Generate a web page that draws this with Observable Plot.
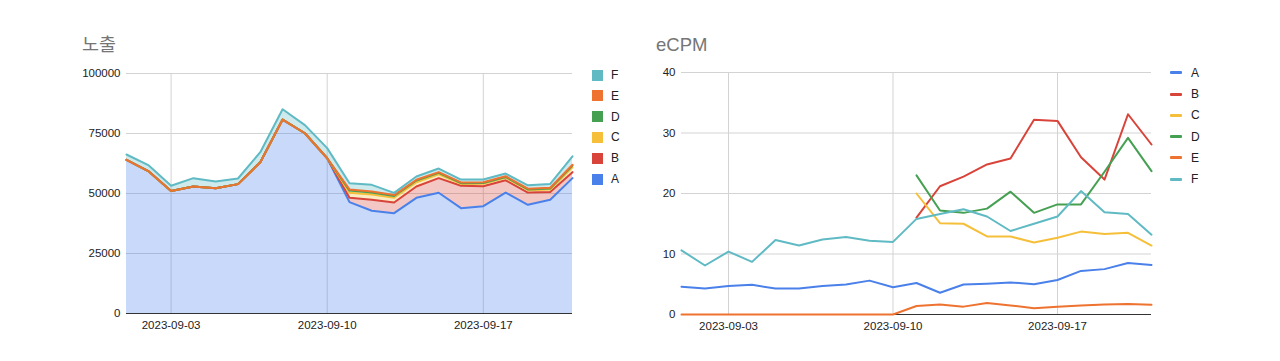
<!DOCTYPE html>
<html>
<head>
<meta charset="utf-8">
<script src="https://cdn.jsdelivr.net/npm/d3@7"></script>
<script src="https://cdn.jsdelivr.net/npm/@observablehq/plot@0.6"></script>
<style>
  html, body { margin: 0; padding: 0; background: #fff; }
  #root { position: relative; width: 1280px; height: 361px; overflow: hidden;
          font-family: "Liberation Sans", Arial, "Noto Sans CJK KR", sans-serif; }
  .title { position: absolute; font-size: 18.5px; color: #757575; line-height: 1; white-space: nowrap;
           font-family: "Liberation Sans", Arial, "Noto Sans CJK KR", sans-serif; }
  .chart { position: absolute; }
  .leg { position: absolute; font-size: 12px; color: #222; line-height: 1; }
  .leg .item { position: absolute; white-space: nowrap; }
  .leg .sw { position: absolute; }
  .leg .lb { position: absolute; }
</style>
</head>
<body>
<div id="root"></div>
<script>
// ---------- data ----------
const dates = ["2023-09-01","2023-09-02","2023-09-03","2023-09-04","2023-09-05","2023-09-06","2023-09-07",
               "2023-09-08","2023-09-09","2023-09-10","2023-09-11","2023-09-12","2023-09-13","2023-09-14",
               "2023-09-15","2023-09-16","2023-09-17","2023-09-18","2023-09-19","2023-09-20","2023-09-21"];
const tickDates = ["2023-09-03", "2023-09-10", "2023-09-17"];
const seriesNames = ["A", "B", "C", "D", "E", "F"];
const seriesColors = ["#4a80ea", "#d8443a", "#f5bf3a", "#46a052", "#ee7230", "#5fbac4"];

// 노출 (impressions)
const impA = [64000,59200,51000,52900,52200,53900,63000,80800,75100,64700,46400,42800,41800,48200,50300,43900,44700,50400,45300,47400,56400];
const impB = [0,0,0,0,0,0,0,0,0,0,1800,4600,4450,4700,6100,9300,8300,5100,5100,3200,2500];
const impC = [0,0,0,0,0,0,0,0,0,0,2100,2200,2000,1800,1600,800,1100,1100,1000,1100,2000];
const impD = [0,0,0,0,0,0,0,0,0,0,900,800,700,700,600,300,300,300,300,400,700];
const impE = [0,0,0,0,0,0,0,0,0,0,500,450,400,300,300,300,300,300,300,300,400];
const impF = [2250,2500,2200,3500,2800,2350,4200,4300,3400,4200,2600,2750,900,1400,1500,1200,1100,1100,1400,1600,3500];
const impTicks = [0, 25000, 50000, 75000, 100000];

// eCPM
const ecpmA = [4.6,4.3,4.7,4.9,4.3,4.3,4.7,4.95,5.6,4.5,5.2,3.6,4.95,5.1,5.3,5.0,5.7,7.2,7.5,8.5,8.2];
const ecpmB = [null,null,null,null,null,null,null,null,null,null,16.0,21.2,22.8,24.8,25.8,32.2,32.0,26.0,22.3,33.1,28.1];
const ecpmC = [null,null,null,null,null,null,null,null,null,null,20.0,15.1,15.0,12.9,12.9,11.9,12.7,13.7,13.3,13.5,11.4];
const ecpmD = [null,null,null,null,null,null,null,null,null,null,23.0,17.2,16.8,17.5,20.3,16.8,18.2,18.2,23.6,29.2,23.7];
const ecpmE = [0,0,0,0,0,0,0,0,0,0,1.4,1.65,1.3,1.9,1.5,1.05,1.3,1.5,1.65,1.75,1.6];
const ecpmF = [10.6,8.1,10.4,8.7,12.3,11.4,12.4,12.8,12.2,12.0,15.8,16.6,17.4,16.2,13.8,15.0,16.2,20.4,16.9,16.6,13.2];
const ecpmTicks = [0, 10, 20, 30, 40];

// ---------- build tables ----------
const parse = d3.utcParse("%Y-%m-%d");
const fmt = d3.utcFormat("%Y-%m-%d");
function toRows(arrays) {
  const rows = [];
  seriesNames.forEach((s, i) => {
    arrays[i].forEach((v, j) => rows.push({ date: parse(dates[j]), series: s, value: v }));
  });
  return rows;
}
const impRows = toRows([impA, impB, impC, impD, impE, impF]);
const ecpmRows = toRows([ecpmA, ecpmB, ecpmC, ecpmD, ecpmE, ecpmF]);
const xDomain = [parse(dates[0]), parse(dates[dates.length - 1])];
const xTicks = tickDates.map(parse);
const gridColor = "#d3d3d3";
const axisStyle = { fontFamily: "'Liberation Sans', Arial, sans-serif", fontSize: "11.5px", color: "#222", background: "transparent", overflow: "visible" };

const root = document.getElementById("root");

function addTitle(text, left, top) {
  const t = document.createElement("div");
  t.className = "title"; t.textContent = text;
  t.style.left = left + "px"; t.style.top = top + "px";
  root.appendChild(t);
}

// ---------- left: 노출 stacked area ----------
addTitle("노출", 82, 36);
const left = Plot.plot({
  width: 590, height: 280,
  marginLeft: 126, marginRight: 18, marginTop: 13, marginBottom: 27,
  style: axisStyle,
  x: { type: "utc", domain: xDomain },
  y: { domain: [0, 100000] },
  color: { domain: seriesNames, range: seriesColors },
  marks: [
    Plot.ruleY(impTicks.slice(1), { stroke: gridColor, strokeWidth: 1 }),
    Plot.ruleX(xTicks, { stroke: gridColor, strokeWidth: 1 }),
    Plot.areaY(impRows, { x: "date", y: "value", z: "series", fill: "series", fillOpacity: 0.3 }),
    Plot.lineY(impRows, Plot.stackY2({ x: "date", y: "value", z: "series", stroke: "series", strokeWidth: 2 })),
    Plot.ruleY([0], { stroke: "#333", strokeWidth: 1 }),
    Plot.axisX(xTicks, { tickFormat: fmt, tickSize: 0, tickPadding: 7, label: null }),
    Plot.axisY(impTicks, { tickFormat: d => String(d), tickSize: 0, tickPadding: 6, label: null })
  ]
});
left.classList.add("chart");
left.style.left = "0px"; left.style.top = "60px";
root.appendChild(left);

// ---------- right: eCPM lines ----------
addTitle("eCPM", 656, 36);
const right = Plot.plot({
  width: 520, height: 280,
  marginLeft: 41, marginRight: 9, marginTop: 12, marginBottom: 26,
  style: axisStyle,
  x: { type: "utc", domain: xDomain },
  y: { domain: [0, 40] },
  color: { domain: seriesNames, range: seriesColors },
  marks: [
    Plot.ruleY(ecpmTicks.slice(1), { stroke: gridColor, strokeWidth: 1 }),
    Plot.ruleX(xTicks, { stroke: gridColor, strokeWidth: 1 }),
    Plot.ruleY([0], { stroke: "#333", strokeWidth: 1 }),
    Plot.lineY(ecpmRows, { x: "date", y: "value", z: "series", stroke: "series", strokeWidth: 2 }),
    Plot.axisX(xTicks, { tickFormat: fmt, tickSize: 0, tickPadding: 7, label: null }),
    Plot.axisY(ecpmTicks, { tickFormat: d => String(d), tickSize: 0, tickPadding: 6, label: null })
  ]
});
right.classList.add("chart");
right.style.left = "640px"; right.style.top = "60px";
root.appendChild(right);

// ---------- legends ----------
function addLegend(order, x, yStart, step, kind) {
  const leg = document.createElement("div");
  leg.className = "leg";
  leg.style.left = x + "px"; leg.style.top = "0px";
  order.forEach((s, i) => {
    const c = seriesColors[seriesNames.indexOf(s)];
    const cy = yStart + i * step;
    const item = document.createElement("div");
    item.className = "item";
    item.style.left = "0px"; item.style.top = (cy) + "px";
    const sw = document.createElement("div");
    sw.className = "sw";
    sw.style.background = c;
    if (kind === "square") {
      sw.style.left = "0px"; sw.style.top = "-5.5px"; sw.style.width = "11px"; sw.style.height = "11px";
    } else {
      sw.style.left = "0px"; sw.style.top = "-1.5px"; sw.style.width = "12px"; sw.style.height = "3px";
      sw.style.borderRadius = "1px";
    }
    const lb = document.createElement("div");
    lb.className = "lb"; lb.textContent = s;
    lb.style.left = (kind === "square" ? 19 : 21) + "px"; lb.style.top = "-6px";
    item.appendChild(sw); item.appendChild(lb);
    leg.appendChild(item);
  });
  root.appendChild(leg);
}
addLegend(seriesNames.slice().reverse(), 592, 75, 20.8, "square");
addLegend(seriesNames, 1170, 72.7, 21.3, "line");
</script>
</body>
</html>
